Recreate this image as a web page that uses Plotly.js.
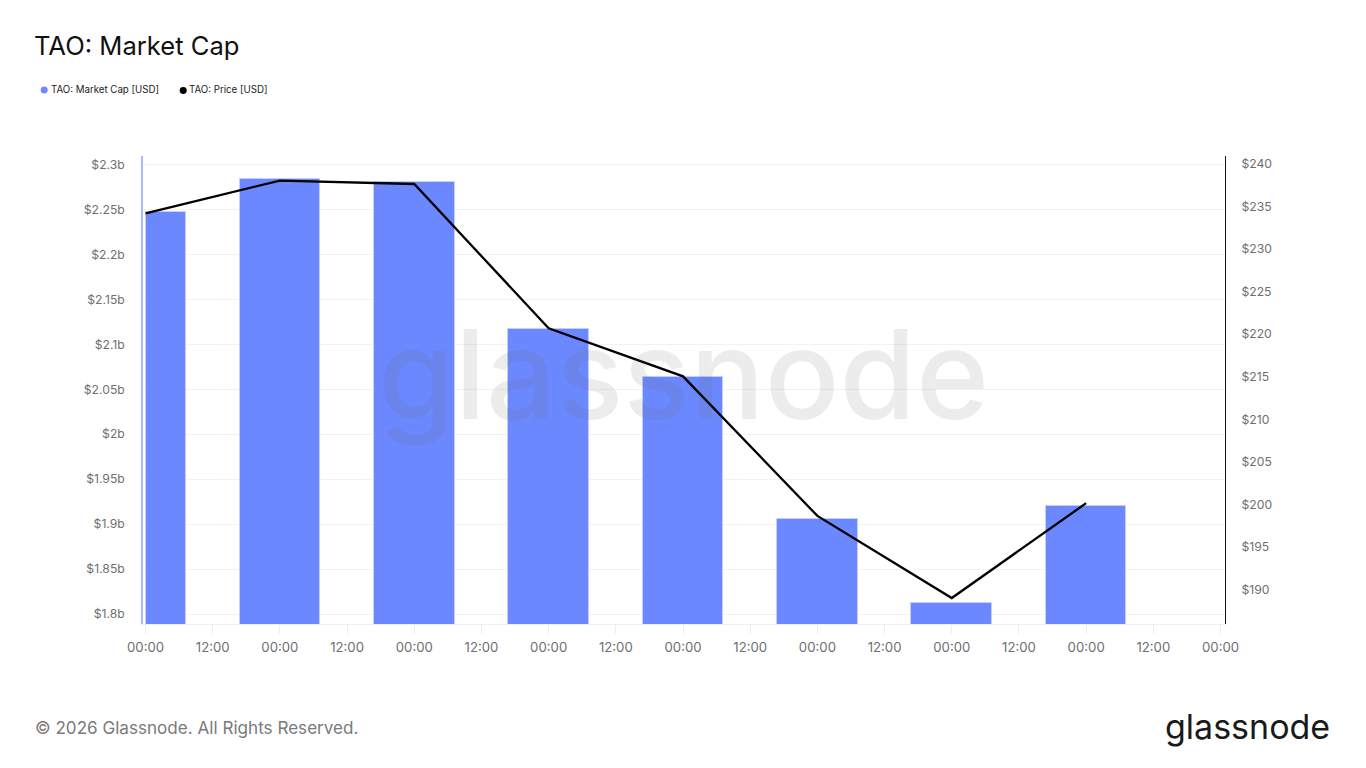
<!DOCTYPE html>
<html>
<head>
<meta charset="utf-8">
<script src="https://cdn.plot.ly/plotly-3.0.1.min.js"></script>
<style>html,body{margin:0;padding:0;background:#fff}#chart{width:1366px;height:768px}</style>
</head>
<body>
<div id="chart"></div>
<script>
const dates = ["2026-01-01","2026-01-02","2026-01-03","2026-01-04","2026-01-05","2026-01-06","2026-01-07","2026-01-08"];
const marketCap = [2.2472e9,2.2840e9,2.2806e9,2.1172e9,2.0633e9,1.9055e9,1.8122e9,1.9200e9];
const price = [234.2,238.05,237.65,220.7,215.05,198.65,189.0,200.15];
const capTicks = [1.8e9,1.85e9,1.9e9,1.95e9,2e9,2.05e9,2.1e9,2.15e9,2.2e9,2.25e9,2.3e9];
const capLabels = ["$1.8b","$1.85b","$1.9b","$1.95b","$2b","$2.05b","$2.1b","$2.15b","$2.2b","$2.25b","$2.3b"];
const priceTicks = [190,195,200,205,210,215,220,225,230,235,240];
const priceLabels = ["$190","$195","$200","$205","$210","$215","$220","$225","$230","$235","$240"];
const capName = "TAO: Market Cap [USD]";
const priceName = "TAO: Price [USD]";
const BLUE = "#6b88ff", TXT = "#6f6f6f";
const H = 3600e3;
const L = 142.8, T = 156, W = 1082, PH = 468.5;
const px = v => (v - L) / W, py = v => (T + PH - v) / PH;
const barW = dates.map((d,i)=> i===0 ? 7.2*H : 14.4*H);
const barO = dates.map((d,i)=> i===0 ? 0 : -7.2*H);
const traces = [
 {type:"bar",x:dates,y:marketCap,name:capName,yaxis:"y",width:barW,offset:barO,
  marker:{color:BLUE,line:{color:"#c3cfff",width:1}},hoverinfo:"x+y"},
 {type:"scatter",mode:"lines",x:dates,y:price,name:priceName,yaxis:"y2",
  line:{color:"#000",width:2.3,shape:"linear"}}
];
const dot = (cx,cy,c)=>({type:"circle",xref:"paper",yref:"paper",x0:px(cx-3.5),x1:px(cx+3.5),y0:py(cy+3.5),y1:py(cy-3.5),
  fillcolor:c,line:{width:0}});
const layout = {
 width:1366,height:768,paper_bgcolor:"#fff",plot_bgcolor:"#fff",
 font:{family:"Inter, sans-serif",color:TXT,size:13},
 margin:{l:L,r:1366-L-W,t:T,b:768-T-PH,pad:0},
 bargap:0,
 title:{text:"TAO: Market Cap",font:{family:"Inter, sans-serif",size:25.6,color:"#111"},x:34/1366,xanchor:"left",y:1-46/768,yanchor:"middle"},
 showlegend:false,
 xaxis:{type:"date",range:["2025-12-31 23:33:00","2026-01-09 00:48:00"],tick0:"2026-01-01",dtick:12*H,tickformat:"%H:%M",
  ticks:"outside",ticklen:9,tickcolor:"#eeeeee",tickwidth:1,showgrid:false,showline:true,linecolor:"#f0f0f0",linewidth:1,
  ticklabelstandoff:2,zeroline:false,tickfont:{size:13.2,color:TXT}},
 yaxis:{range:[1.7889e9,2.3094e9],tickmode:"array",tickvals:capTicks,ticktext:capLabels,ticks:"",
  showgrid:true,gridcolor:"#f2f2f2",gridwidth:1,showline:true,linecolor:"#a9b9ff",linewidth:1.5,zeroline:false,
  ticklabelstandoff:14,tickfont:{size:12.2,color:TXT},fixedrange:true},
 yaxis2:{overlaying:"y",side:"right",range:[185.95,240.94],tickmode:"array",tickvals:priceTicks,ticktext:priceLabels,ticks:"",
  showgrid:false,showline:true,linecolor:"#111",linewidth:1,zeroline:false,
  ticklabelstandoff:13,tickfont:{size:12.2,color:TXT},fixedrange:true},
 shapes:[dot(44,90,BLUE),dot(183,90.5,"#000")],
 annotations:[
  {text:capName,xref:"paper",yref:"paper",x:px(51),y:py(89),xanchor:"left",yanchor:"middle",showarrow:false,xshift:-2,
   font:{size:9.7,color:"#222"}},
  {text:priceName,xref:"paper",yref:"paper",x:px(189),y:py(89),xanchor:"left",yanchor:"middle",showarrow:false,xshift:-2,
   font:{size:9.7,color:"#222"}},
  {text:"glassnode",xref:"paper",yref:"paper",x:px(683),y:py(374),xanchor:"center",yanchor:"middle",showarrow:false,
   font:{family:"Inter, sans-serif",size:124,weight:500,color:"rgba(110,110,110,0.13)"}},
  {text:"© 2026 Glassnode. All Rights Reserved.",xref:"paper",yref:"paper",x:px(34.5),y:py(728.5),xanchor:"left",yanchor:"middle",showarrow:false,xshift:-2,
   font:{family:"Inter, sans-serif",size:17.1,color:"#7a7a7a"}},
  {text:"glassnode",xref:"paper",yref:"paper",x:px(1332),y:py(727),xanchor:"right",yanchor:"middle",showarrow:false,
   font:{family:"Inter, sans-serif",size:34,weight:400,color:"#1a1a1a"}}
 ]
};
Plotly.newPlot("chart",traces,layout,{displayModeBar:false,responsive:false});
</script>
</body>
</html>
